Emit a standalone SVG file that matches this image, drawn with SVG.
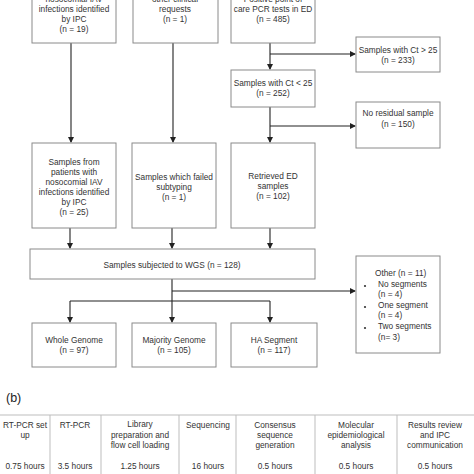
<svg xmlns="http://www.w3.org/2000/svg" width="474" height="474" viewBox="0 0 474 474">
<defs>
<marker id="ah" markerWidth="6" markerHeight="6" refX="5" refY="3" orient="auto" markerUnits="userSpaceOnUse">
<path d="M0,0 L6,3 L0,6 Z" fill="#222"/>
</marker>
<style>
.box{fill:#fff;stroke:#8a8a8a;stroke-width:1}
.t{font-family:"Liberation Sans",Arial,sans-serif;font-size:8.3px;fill:#333;text-anchor:middle}
.tl{font-family:"Liberation Sans",Arial,sans-serif;font-size:8.3px;fill:#333}
.c{fill:none;stroke:#222;stroke-width:1.1}
.a{fill:none;stroke:#222;stroke-width:1.1;marker-end:url(#ah)}
.g{stroke:#bdbdbd;stroke-width:1;fill:none}
.th{font-family:"Liberation Sans",Arial,sans-serif;font-size:8.3px;fill:#333;text-anchor:middle}
</style>
</defs>
<rect width="474" height="474" fill="#fff"/>

<g id="connectors">
<path class="a" d="M71,43 V142"/>
<path class="a" d="M173,43 V142"/>
<path class="a" d="M270,43 V69"/>
<path class="a" d="M270,54 H355"/>
<path class="a" d="M270,107 V142"/>
<path class="a" d="M270,126 H355"/>
<path class="a" d="M70,228 V248"/>
<path class="a" d="M172,228 V248"/>
<path class="a" d="M270,228 V248"/>
<path class="a" d="M172,279 V322"/>
<path class="a" d="M172,291 H355"/>
<path class="c" d="M70,301 H270"/>
<path class="a" d="M70,301 V322"/>
<path class="a" d="M270,301 V322"/>
</g>

<g id="nodeA">
<rect class="box" x="32" y="-20" width="84" height="63"/>
<text class="t" x="74" y="2">nosocomial IAV</text>
<text class="t" x="74" y="12">infections identified</text>
<text class="t" x="74" y="22">by IPC</text>
<text class="t" x="74" y="32">(n = 19)</text>
</g>
<g id="nodeB">
<rect class="box" x="133" y="-20" width="85" height="63"/>
<text class="t" x="175" y="2">other clinical</text>
<text class="t" x="175" y="12">requests</text>
<text class="t" x="175" y="22">(n = 1)</text>
</g>
<g id="nodeC">
<rect class="box" x="231" y="-20" width="84" height="63"/>
<text class="t" x="273" y="2">Positive point of</text>
<text class="t" x="273" y="12">care PCR tests in ED</text>
<text class="t" x="273" y="22">(n = 485)</text>
</g>
<g id="nodeCtHigh">
<rect class="box" x="356" y="37" width="84" height="35"/>
<text class="t" x="398" y="53">Samples with Ct &gt; 25</text>
<text class="t" x="398" y="63">(n = 233)</text>
</g>
<g id="nodeCtLow">
<rect class="box" x="231" y="70" width="84" height="37"/>
<text class="t" x="273" y="86">Samples with Ct &lt; 25</text>
<text class="t" x="273" y="96">(n = 252)</text>
</g>
<g id="nodeNoResidual">
<rect class="box" x="356" y="102" width="84" height="46"/>
<text class="t" x="398" y="116">No residual sample</text>
<text class="t" x="398" y="127">(n = 150)</text>
</g>
<g id="nodeNosocomial">
<rect class="box" x="32" y="143" width="84" height="85"/>
<text class="t" x="74" y="165">Samples from</text>
<text class="t" x="74" y="175">patients with</text>
<text class="t" x="74" y="185">nosocomial IAV</text>
<text class="t" x="74" y="195">infections identified</text>
<text class="t" x="74" y="205">by IPC</text>
<text class="t" x="74" y="215">(n = 25)</text>
</g>
<g id="nodeFailed">
<rect class="box" x="132" y="143" width="84" height="85"/>
<text class="t" x="174" y="180">Samples which failed</text>
<text class="t" x="174" y="190">subtyping</text>
<text class="t" x="174" y="200">(n = 1)</text>
</g>
<g id="nodeRetrieved">
<rect class="box" x="231" y="143" width="84" height="85"/>
<text class="t" x="273" y="179">Retrieved ED</text>
<text class="t" x="273" y="189">samples</text>
<text class="t" x="273" y="199">(n = 102)</text>
</g>
<g id="nodeWGS">
<rect class="box" x="30" y="249" width="285" height="30"/>
<text class="t" x="172" y="268">Samples subjected to WGS (n = 128)</text>
</g>
<g id="nodeWhole">
<rect class="box" x="32" y="323" width="84" height="44"/>
<text class="t" x="74" y="343">Whole Genome</text>
<text class="t" x="74" y="353">(n = 97)</text>
</g>
<g id="nodeMajority">
<rect class="box" x="132" y="323" width="84" height="44"/>
<text class="t" x="174" y="343">Majority Genome</text>
<text class="t" x="174" y="353">(n = 105)</text>
</g>
<g id="nodeHA">
<rect class="box" x="231" y="323" width="86" height="44"/>
<text class="t" x="274" y="343">HA Segment</text>
<text class="t" x="274" y="353">(n = 117)</text>
</g>
<g id="nodeOther">
<rect class="box" x="356" y="256" width="84" height="97"/>
<text class="tl" x="375" y="276">Other (n = 11)</text>
<circle cx="365" cy="286" r="1.1" fill="#333"/>
<text class="tl" x="378" y="287">No segments</text>
<text class="tl" x="378" y="297">(n = 4)</text>
<circle cx="365" cy="307" r="1.1" fill="#333"/>
<text class="tl" x="378" y="308">One segment</text>
<text class="tl" x="378" y="318">(n = 4)</text>
<circle cx="365" cy="328" r="1.1" fill="#333"/>
<text class="tl" x="378" y="329">Two segments</text>
<text class="tl" x="378" y="340">(n= 3)</text>
</g>

<text x="6" y="402" font-family="Liberation Sans,Arial,sans-serif" font-size="12.5" fill="#222">(b)</text>

<g id="table">
<path class="g" d="M0,415 H474"/>
<path class="g" d="M50,415 V474 M101,415 V474 M179,415 V474 M236,415 V474 M315,415 V474 M397,415 V474"/>
<text class="th" x="25" y="428">RT-PCR set</text>
<text class="th" x="25" y="438">up</text>
<text class="th" x="75" y="428">RT-PCR</text>
<text class="th" x="140" y="427">Library</text>
<text class="th" x="140" y="438">preparation and</text>
<text class="th" x="140" y="448">flow cell loading</text>
<text class="th" x="208" y="428">Sequencing</text>
<text class="th" x="275" y="428">Consensus</text>
<text class="th" x="275" y="438">sequence</text>
<text class="th" x="275" y="448">generation</text>
<text class="th" x="356" y="428">Molecular</text>
<text class="th" x="356" y="438">epidemiological</text>
<text class="th" x="356" y="448">analysis</text>
<text class="th" x="435" y="428">Results review</text>
<text class="th" x="435" y="438">and IPC</text>
<text class="th" x="435" y="448">communication</text>
<text class="th" x="25" y="469">0.75 hours</text>
<text class="th" x="75" y="469">3.5 hours</text>
<text class="th" x="140" y="469">1.25 hours</text>
<text class="th" x="208" y="469">16 hours</text>
<text class="th" x="275" y="469">0.5 hours</text>
<text class="th" x="356" y="469">0.5 hours</text>
<text class="th" x="435" y="469">0.5 hours</text>
</g>
</svg>
